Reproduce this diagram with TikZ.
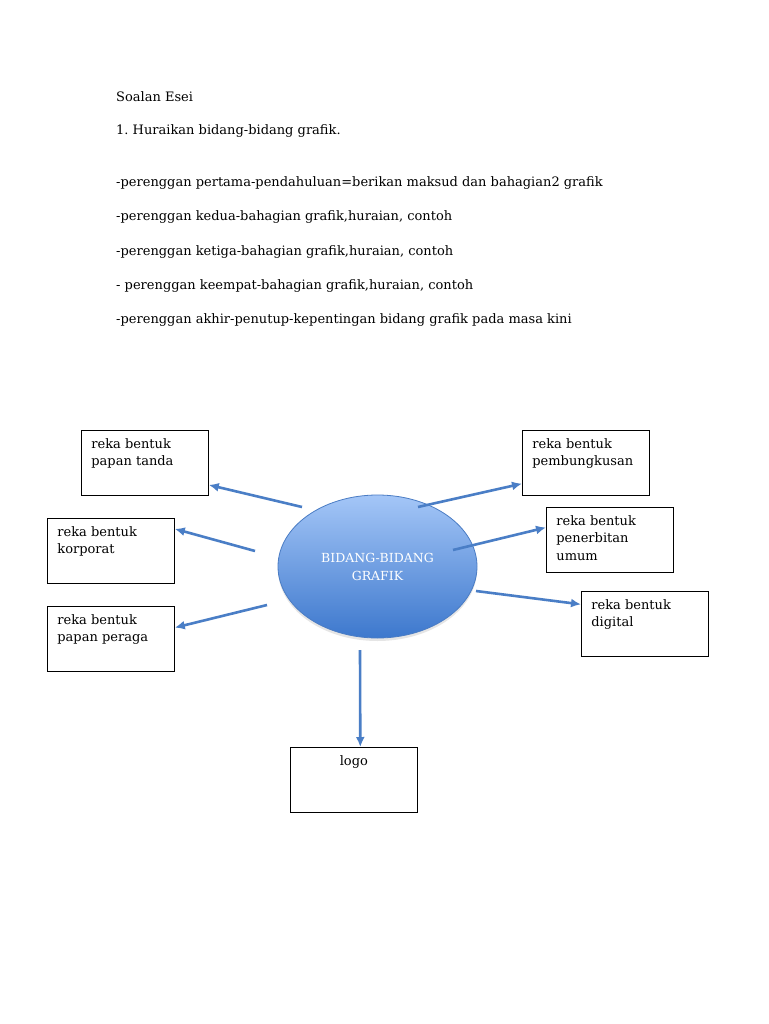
\documentclass[tikz,border=0pt]{standalone}
\usepackage{fontspec}
\setmainfont{DejaVu Serif}
\usetikzlibrary{arrows.meta, shapes.geometric, shadows}
\frenchspacing

\definecolor{arrowblue}{HTML}{4A7EC6}
\definecolor{ovaltop}{HTML}{A4C6F7}
\definecolor{ovalbot}{HTML}{3D78CD}
\definecolor{ovalline}{HTML}{4A7CC4}

% box text sits at the top left of each box
\newcommand{\boxtext}[1]{\parbox[c][49pt][t]{107pt}{\raggedright #1}}

\begin{document}
\begin{tikzpicture}[x=1pt, y=-1pt, >={Latex[length=10pt,width=9pt]},
    every node/.style={font=\fontsize{13}{17.5}\selectfont},
    line/.style={anchor=base west, inner sep=0pt},
    box/.style={draw, line width=0.8pt, anchor=north west, inner xsep=10pt, inner ysep=8pt,
        minimum width=127pt, minimum height=65pt},
    link/.style={->, draw=arrowblue, fill=arrowblue, line width=2.6pt}]
    \useasboundingbox[fill=white] (0,0) rectangle (768,1024);

    % question text
    \node[line] (judul) at (116,102) {Soalan Esei};
    \node[line] (soalan) at (116,135) {1. Huraikan bidang-bidang grafik.};
    \node[line] (p1) at (116,187) {-perenggan pertama-pendahuluan=berikan maksud dan bahagian2 grafik};
    \node[line] (p2) at (116,221) {-perenggan kedua-bahagian grafik,huraian, contoh};
    \node[line] (p3) at (116,255) {-perenggan ketiga-bahagian grafik,huraian, contoh};
    \node[line] (p4) at (116,289) {- perenggan keempat-bahagian grafik,huraian, contoh};
    \node[line] (p5) at (116,323) {-perenggan akhir-penutup-kepentingan bidang grafik pada masa kini};

    % centre
    \node[ellipse, draw=ovalline, line width=0.8pt, top color=ovaltop, bottom color=ovalbot,
        minimum width=199pt, minimum height=143pt, text=white, align=center,
        font=\fontsize{12.5}{18}\selectfont,
        drop shadow={opacity=0.2, shadow xshift=0pt, shadow yshift=-3pt}]
        (bidang) at (377.5,566.5) {BIDANG-BIDANG\\GRAFIK};

    % boxes
    \node[box] (tanda) at (81,430) {\boxtext{reka bentuk\\papan tanda}};
    \node[box] (korporat) at (47,518) {\boxtext{reka bentuk\\korporat}};
    \node[box] (peraga) at (47,606) {\boxtext{reka bentuk\\papan peraga}};
    \node[box] (bungkus) at (522,430) {\boxtext{reka bentuk\\pembungkusan}};
    \node[box] (terbit) at (546,507) {\boxtext{reka bentuk\\penerbitan\\umum}};
    \node[box] (digital) at (581,591) {\boxtext{reka bentuk\\digital}};
    \node[box] (logo) at (290,747) {\parbox[c][49pt][t]{107pt}{\centering logo}};

    % arrow starts
    \coordinate (sTanda) at (302,507);
    \coordinate (sKorporat) at (255,551);
    \coordinate (sPeraga) at (267,605);
    \coordinate (sBungkus) at (418,507);
    \coordinate (sTerbit) at (453,550);
    \coordinate (sDigital) at (476,591);
    \coordinate (sLogo) at (360,650);

    \draw[link] (sTanda) -- (tanda.-19.6);
    \draw[link] (sKorporat) -- (korporat.19.2);
    \draw[link] (sPeraga) -- (peraga.10);
    \draw[link] (sBungkus) -- (bungkus.198);
    \draw[link] (sTerbit) -- (terbit.169.7);
    \draw[link] (sDigital) -- (digital.163.9);
    \draw[link] (sLogo) -- (logo.79);
\end{tikzpicture}
\end{document}
